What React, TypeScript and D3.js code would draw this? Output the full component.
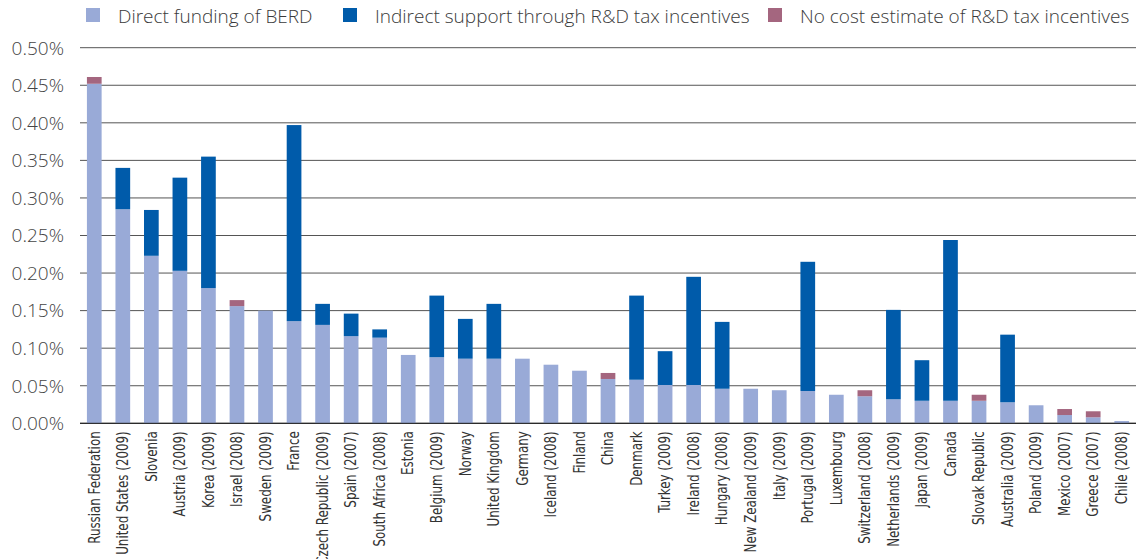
import React from "react";
import * as d3 from "d3";

const countries = [
  "Russian Federation", "United States (2009)", "Slovenia", "Austria (2009)", "Korea (2009)",
  "Israel (2008)", "Sweden (2009)", "France", "Czech Republic (2009)", "Spain (2007)",
  "South Africa (2008)", "Estonia", "Belgium (2009)", "Norway", "United Kingdom",
  "Germany", "Iceland (2008)", "Finland", "China", "Denmark",
  "Turkey (2009)", "Ireland (2008)", "Hungary (2008)", "New Zealand (2009)", "Italy (2009)",
  "Portugal (2009)", "Luxembourg", "Switzerland (2008)", "Netherlands (2009)", "Japan (2009)",
  "Canada", "Slovak Republic", "Australia (2009)", "Poland (2009)", "Mexico (2007)",
  "Greece (2007)", "Chile (2008)",
];

const directFunding = [
  0.452, 0.285, 0.223, 0.203, 0.180, 0.156, 0.150, 0.136, 0.131, 0.116,
  0.114, 0.091, 0.088, 0.086, 0.086, 0.086, 0.078, 0.070, 0.059, 0.058,
  0.051, 0.051, 0.046, 0.046, 0.044, 0.043, 0.038, 0.036, 0.032, 0.030,
  0.030, 0.030, 0.028, 0.024, 0.011, 0.008, 0.003,
];

const indirectSupport = [
  0, 0.055, 0.061, 0.124, 0.175, 0, 0, 0.261, 0.028, 0.030,
  0.011, 0, 0.082, 0.053, 0.073, 0, 0, 0, 0, 0.112,
  0.045, 0.144, 0.089, 0, 0, 0.172, 0, 0, 0.119, 0.054,
  0.214, 0, 0.090, 0, 0, 0, 0,
];

const noCostEstimate = [
  0.009, 0, 0, 0, 0, 0.008, 0, 0, 0, 0,
  0, 0, 0, 0, 0, 0, 0, 0, 0.008, 0,
  0, 0, 0, 0, 0, 0, 0, 0.008, 0, 0,
  0, 0.008, 0, 0, 0.008, 0.008, 0,
];

const seriesNames = [
  "Direct funding of BERD",
  "Indirect support through R&D tax incentives",
  "No cost estimate of R&D tax incentives",
];
const seriesColors = ["#99AAD7", "#005BAA", "#A4667F"];
const yTicks = [0, 0.05, 0.1, 0.15, 0.2, 0.25, 0.3, 0.35, 0.4, 0.45, 0.5];

const W = 1141;
const H = 559;
const LEFT = 80;
const RIGHT = 1136;
const TOP = 47.7;
const BOTTOM = 423.3;
const textFont = "'Open Sans', 'Noto Sans', sans-serif";
const labelFont = "'Liberation Sans Narrow', 'DejaVu Sans Condensed', 'Roboto', sans-serif";

export default function App() {
  const x = d3.scaleBand<string>().domain(countries).range([LEFT, RIGHT])
    .paddingInner(0.485).paddingOuter(0.2425);
  const y = d3.scaleLinear().domain([0, 0.5]).range([BOTTOM, TOP]);

  const rows = countries.map((c, i) => ({
    country: c, direct: directFunding[i], indirect: indirectSupport[i], nocost: noCostEstimate[i],
  }));
  const stack = d3.stack<any>().keys(["direct", "indirect", "nocost"]);
  const layers = stack(rows);

  const legendX = [86, 343, 768];

  return (
    <svg width={W} height={H} style={{ position: "absolute", left: 0, top: 0, background: "#fff" }}>
      {/* legend */}
      {seriesNames.map((n, i) => (
        <g key={n}>
          <rect x={legendX[i]} y={8} width={14} height={14} fill={seriesColors[i]} />
          <text x={legendX[i] + 32} y={23} fontFamily={textFont} fontSize={19} fontWeight={300} fill="#3a3a3a">{n}</text>
        </g>
      ))}
      {/* gridlines */}
      {yTicks.map((t) => (
        <g key={t}>
          <line x1={LEFT} x2={RIGHT} y1={y(t)} y2={y(t)} stroke={t === 0 ? "#222" : "#555"} strokeWidth={1} />
          <text x={64} y={y(t)} dy="0.36em" textAnchor="end" fontFamily={textFont} fontSize={19} fontWeight={300} fill="#444">
            {d3.format(".2f")(t) + "%"}
          </text>
        </g>
      ))}
      {/* bars */}
      {layers.map((layer, li) => (
        <g key={li} fill={seriesColors[li]}>
          {layer.map((d: any, i: number) =>
            d[1] - d[0] > 0 ? (
              <rect key={i} x={x(countries[i])} width={x.bandwidth()} y={y(d[1])} height={y(d[0]) - y(d[1])} />
            ) : null
          )}
        </g>
      ))}
      <line x1={LEFT} x2={RIGHT} y1={BOTTOM} y2={BOTTOM} stroke="#222" strokeWidth={1} />
      {/* x labels */}
      {countries.map((c) => {
        const cx = (x(c) as number) + x.bandwidth() / 2;
        return (
          <text key={c} transform={`translate(${cx},${BOTTOM + 8}) rotate(-90) scale(0.88,1)`} textAnchor="end" dy="0.35em"
            fontFamily={labelFont} fontSize={15} fill="#333">
            {c}
          </text>
        );
      })}
    </svg>
  );
}
